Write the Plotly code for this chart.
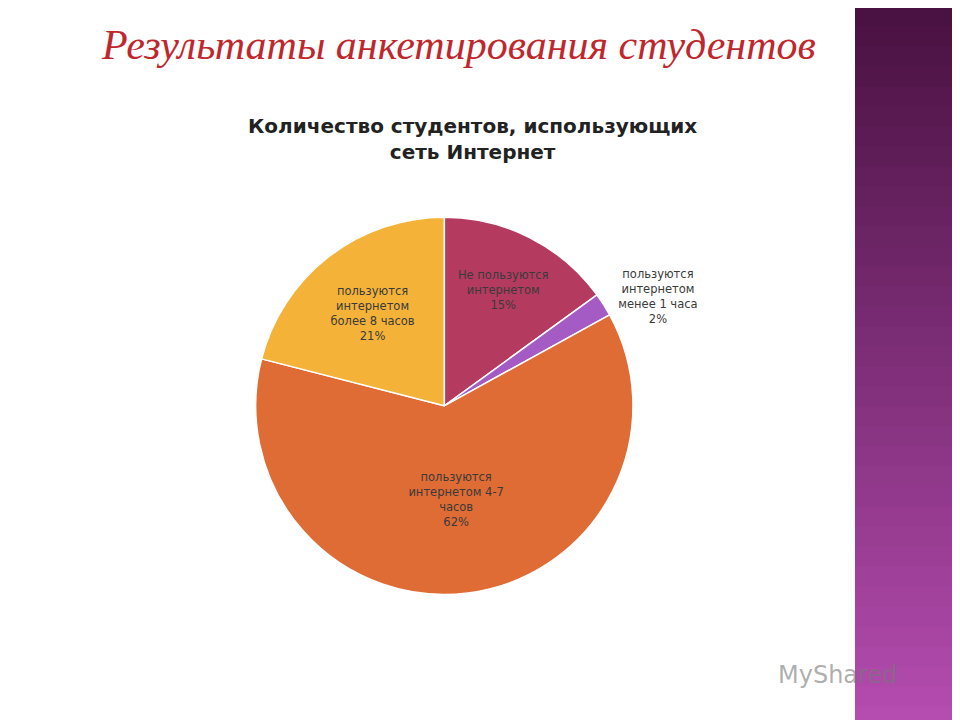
import plotly.graph_objects as go

labels = ["Не пользуются<br>интернетом",
          "пользуются<br>интернетом<br>менее 1 часа",
          "пользуются<br>интернетом 4-7<br>часов",
          "пользуются<br>интернетом<br>более 8 часов"]
values = [15, 2, 62, 21]
colors = ["#B53A60", "#A45CC4", "#DF6B35", "#F4B338"]
positions = ["inside", "outside", "inside", "inside"]

fig = go.Figure(go.Pie(
    labels=labels, values=values, sort=False, direction="clockwise", rotation=0,
    marker=dict(colors=colors, line=dict(color="white", width=1.5)),
    texttemplate="%{label}<br>%{percent:.0%}", textposition=positions,
    insidetextorientation="horizontal",
    textfont=dict(family="DejaVu Sans", size=11.5, color="#3a3a3a"),
    domain=dict(x=[0.258, 0.651], y=[0.185, 0.71]),
    showlegend=False, hoverinfo="label+percent",
))

# purple gradient stripe on the right
shapes = []
n = 36
for i in range(n):
    t = i / (n - 1)
    r = int(0x4a + (0xb5 - 0x4a) * t)
    g = int(0x12 + (0x4c - 0x12) * t)
    b = int(0x42 + (0xb0 - 0x42) * t)
    shapes.append(dict(type="rect", xref="paper", yref="paper",
                       x0=847 / 960, x1=1, y0=1 - (i + 1) / n, y1=1 - i / n + 0.002,
                       fillcolor=f"rgb({r},{g},{b})", line=dict(width=0), layer="below"))

fig.update_layout(
    width=960, height=720, margin=dict(l=0, r=0, t=0, b=0),
    paper_bgcolor="white", plot_bgcolor="white", shapes=shapes,
    uniformtext=dict(minsize=11, mode="show"),
    annotations=[
        dict(text="<i>Результаты анкетирования студентов</i>", x=450 / 960, y=1 - 12 / 720,
             xref="paper", yref="paper", showarrow=False,
             font=dict(family="Liberation Serif", size=42, color="#C0272D")),
        dict(text="<b>Количество студентов, использующих<br>сеть Интернет</b>",
             x=464 / 960, y=1 - 104 / 720, xref="paper", yref="paper", showarrow=False,
             font=dict(family="DejaVu Sans", size=20, color="#222")),
        dict(text="MyShared", x=768 / 960, y=1 - 683 / 720, xref="paper", yref="paper",
             xanchor="left", showarrow=False,
             font=dict(family="DejaVu Sans", size=24, color="rgba(120,120,120,0.6)")),
    ],
)

fig.write_html("out.html")
